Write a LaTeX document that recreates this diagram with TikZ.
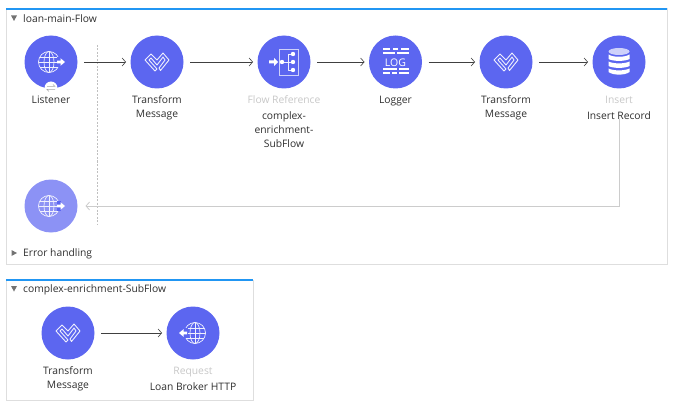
\documentclass[tikz,border=0pt]{standalone}
\usepackage{fontspec}
\setmainfont{Open Sans}
\usetikzlibrary{arrows.meta}
\definecolor{flowblue}{HTML}{5C66F0}
\definecolor{flowfade}{HTML}{8C92F5}
\definecolor{frameblue}{HTML}{2196F3}
\definecolor{framegrey}{HTML}{DEDEDE}
\definecolor{textgrey}{HTML}{2E2E2E}
\tikzset{
	flownode/.style={circle,fill=flowblue,minimum size=53pt,inner sep=0pt,outer sep=0pt},
	fadenode/.style={flownode,fill=flowfade},
	flowtext/.style={font=\fontsize{10.3}{14}\selectfont,text=textgrey,align=center,inner sep=0pt,anchor=north},
	typetext/.style={flowtext,text=black!22},
	titletext/.style={flowtext,anchor=west},
	flowline/.style={-{Straight Barb[length=3.5pt,width=8pt]},black!75,line width=0.6pt,shorten <=6.5pt,shorten >=4.5pt},
	backline/.style={-{Straight Barb[length=3.5pt,width=8pt]},black!20,line width=0.8pt,shorten >=8pt},
	iconline/.style={white!90!flowblue,line width=0.7pt,line join=round},
	iconfill/.style={fill=white,draw=none},
}
\def\globeicon(#1)(#2){
	\begin{scope}[shift={(#1)},xscale=#2]
		\draw[iconline] (-2,0) circle (10.5);
		\draw[iconline] (-2,0) ellipse (5 and 10.5);
		\draw[iconline] (-2,-10.5) -- (-2,10.5);
		\draw[iconline] (-12.5,0) -- (8.5,0);
		\draw[iconline] (-11,-5) -- (7,-5);
		\draw[iconline] (-11,5) -- (7,5);
		\fill[flowblue] (5.5,-5) rectangle (10,5);
		\fill[iconfill] (6,-1.3) -- (9.5,-1.3) -- (9.5,-3.8) -- (14,0) -- (9.5,3.8) -- (9.5,1.3) -- (6,1.3) -- cycle;
	\end{scope}
}
\def\mapicon(#1){
	\draw[iconline,line width=0.9pt,shift={(#1)}] (-6,-8) -- (-12,-2) -- (-2,9) -- (0,7) -- (-8,-2) -- (-6,-4) -- (0,3) -- (6,-5) -- (8,-2) -- (2,6) -- (3.5,8.5) -- (12,-2) -- (6,-9) -- (0,-2) -- cycle;
}
\begin{document}
\begin{tikzpicture}[x=1pt,y=-1pt]
	%%%%% START %%%%%
	\useasboundingbox (0,0) rectangle (680,409);
	
	% frames
	\draw[framegrey,line width=1pt] (6,9) rectangle (667,264);
	\draw[frameblue,line width=1.3pt] (6,9) -- (667,9);
	\draw[framegrey,line width=1pt] (6,280) rectangle (253,400);
	\draw[frameblue,line width=1.3pt] (6,280) -- (253,280);
	
	% titles
	\fill[black!55] (11,15.5) -- (17,15.5) -- (14,21) -- cycle;
	\node[titletext] (maintitle) at (23,18.5) {loan-main-Flow};
	\fill[black!55] (11.5,250) -- (17,253) -- (11.5,256) -- cycle;
	\node[titletext] (errortitle) at (23,253.5) {Error handling};
	\fill[black!55] (11,286) -- (17,286) -- (14,291.5) -- cycle;
	\node[titletext] (subtitle) at (23,289.5) {complex-enrichment-SubFlow};
	
	\draw[black!25,dash pattern=on 2pt off 1.5pt,line width=0.6pt] (97,45) -- (97,224);
	
	% main flow
	\node[flownode] (listener) at (51,62) {};
	\node[flownode] (transforma) at (157,62) {};
	\node[flownode] (flowref) at (284,62) {};
	\node[flownode] (logger) at (395.5,62) {};
	\node[flownode] (transformb) at (506,62) {};
	\node[flownode] (insert) at (619,62) {};
	\node[fadenode] (response) at (51,206) {};
	
	\draw[flowline] (listener) -- (transforma);
	\draw[flowline] (transforma) -- (flowref);
	\draw[flowline] (flowref) -- (logger);
	\draw[flowline] (logger) -- (transformb);
	\draw[flowline] (transformb) -- (insert);
	
	% sub flow
	\node[flownode] (transformc) at (68,333) {};
	\node[flownode] (request) at (193,333) {};
	\draw[flowline] (transformc) -- (request);
	
	% labels
	\node[flowtext] (listenerlabel) at (51,95.8) {Listener};
	\node[flowtext] (transformalabel) at (157,95.8) {Transform\\Message};
	\node[typetext] (flowreftype) at (284,95.8) {Flow Reference};
	\node[flowtext] (flowreflabel) at (284,111) {complex-\\enrichment-\\SubFlow};
	\node[flowtext] (loggerlabel) at (395.5,95.8) {Logger};
	\node[flowtext] (transformblabel) at (506,95.8) {Transform\\Message};
	\node[typetext] (inserttype) at (619,95.8) {Insert};
	\node[flowtext] (insertlabel) at (619,111) {Insert Record};
	\node[flowtext] (transformclabel) at (68,366.8) {Transform\\Message};
	\node[typetext] (requesttype) at (193,366.8) {Request};
	\node[flowtext] (requestlabel) at (193,382) {Loan Broker HTTP};
	
	\coordinate (backcorner) at (619,206);
	\draw[backline] (insertlabel.south) -- (backcorner) -- (response);
	
	% icons
	\globeicon(51,62)(1)
	\globeicon(51,206)(1)
	\globeicon(193,333)(-1)
	\mapicon(157,62)
	\mapicon(506,62)
	\mapicon(68,333)
	
	% source badge
	\fill[white] (51,88) circle (6.5);
	\draw[black!35,line width=0.5pt] (47,86.5) -- (55,86.5) -- (53,84.5);
	\draw[black!35,line width=0.5pt] (55,89.5) -- (47,89.5) -- (49,91.5);
	
	% flow reference icon
	\begin{scope}[shift={(284,62)}]
		\fill[iconfill] (-15,-1.5) -- (-10,-1.5) -- (-10,-4) -- (-6,0) -- (-10,4) -- (-10,1.5) -- (-15,1.5) -- cycle;
		\draw[white!70!flowblue,line width=0.5pt] (-5,-13) rectangle (14,13);
		\draw[iconline] (-2,0) -- (9,0);
		\draw[iconline] (9,-8) -- (4,-8) -- (4,8) -- (9,8);
		\fill[iconfill] (-2,0) circle (2.2);
		\fill[iconfill] (9,-8) circle (2.2);
		\fill[iconfill] (9,0) circle (2.2);
		\fill[iconfill] (9,8) circle (2.2);
	\end{scope}
	
	% logger icon
	\begin{scope}[shift={(395.5,62)}]
		\fill[iconfill] (-13,-13.5) rectangle (-6,-11.5);
		\fill[iconfill] (-3,-13.5) rectangle (2,-11.5);
		\fill[iconfill] (5,-13.5) rectangle (13,-11.5);
		\fill[iconfill] (-13,-9.5) rectangle (-1,-7.5);
		\fill[iconfill] (1,-9.5) rectangle (13,-7.5);
		\node[white,font=\fontsize{10.5}{12}\selectfont,inner sep=0pt] (logtext) at (0,0.5) {LOG};
		\fill[iconfill] (-13,6.5) rectangle (1,8.5);
		\fill[iconfill] (3,6.5) rectangle (13,8.5);
		\fill[iconfill] (-13,10.5) rectangle (-6,12.5);
		\fill[iconfill] (-4,10.5) rectangle (1,12.5);
		\fill[iconfill] (3,10.5) rectangle (13,12.5);
	\end{scope}
	
	% database icon
	\begin{scope}[shift={(619,62)}]
		\fill[white,opacity=0.7] (0,-10.5) ellipse (10.5 and 3.5);
		\fill[iconfill] (-10.5,-7.5) .. controls (-6,-4.5) and (6,-4.5) .. (10.5,-7.5) -- (10.5,-3) .. controls (6,-0.5) and (-6,-0.5) .. (-10.5,-3) -- cycle;
		\fill[iconfill] (-10.5,-0.5) .. controls (-6,2) and (6,2) .. (10.5,-0.5) -- (10.5,4) .. controls (6,6.5) and (-6,6.5) .. (-10.5,4) -- cycle;
		\fill[iconfill] (-10.5,6.5) .. controls (-6,9) and (6,9) .. (10.5,6.5) -- (10.5,10) .. controls (6,13.5) and (-6,13.5) .. (-10.5,10) -- cycle;
	\end{scope}
	%%%%% END %%%%%
\end{tikzpicture}
\end{document}
